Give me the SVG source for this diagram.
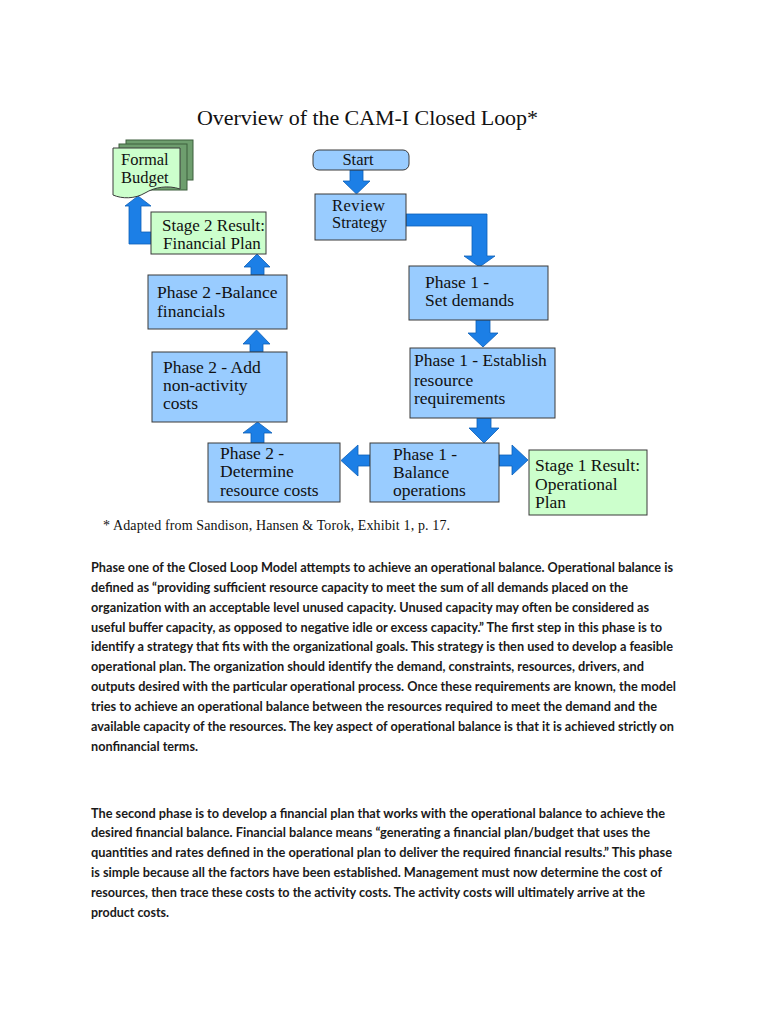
<svg xmlns="http://www.w3.org/2000/svg" width="768" height="1024" viewBox="0 0 768 1024">
<defs>
<style>
.box{fill:#99ccff;stroke:#3a3a3a;stroke-width:1}
.gbox{fill:#ccffcc;stroke:#3a3a3a;stroke-width:1}
.sheet{fill:#6e9e6e;stroke:#3d5f3d;stroke-width:1}
.t{font-family:"Liberation Serif","Times New Roman",serif;font-size:17.5px;fill:#111}
.arr{fill:#1c7fe6;stroke:#0d5fb8;stroke-width:0.8}
.p{font-family:Lato,"Liberation Sans",sans-serif;font-weight:bold;font-size:13.5px;fill:#1a1a1a}
</style>
</defs>
<rect width="768" height="1024" fill="#ffffff"/>
<text class="t" x="197" y="125" style="font-size:22px" textLength="341">Overview of the CAM-I Closed Loop*</text>

<g id="connectors">
<polygon class="arr" points="350,170 363,170 363,181 370,181 356.5,194 343,181 350,181"/>
<polygon class="arr" points="406,214 487,214 487,256 495,256 479.5,267 464,256 472,256 472,226 406,226"/>
<polygon class="arr" points="476,320 490,320 490,333 498,333 483,347 468,333 476,333"/>
<polygon class="arr" points="477,418 491,418 491,428 499,428 484,443 469,428 477,428"/>
<polygon class="arr" points="499,455 512,455 512,445 528,460 512,475 512,466 499,466"/>
<polygon class="arr" points="370,455 358,455 358,445 341,460.5 358,476 358,466 370,466"/>
<polygon class="arr" points="251,443 251,433 243,433 257.5,422 272,433 264,433 264,443"/>
<polygon class="arr" points="250,352 250,344 243,344 256.5,330 270,344 263,344 263,352"/>
<polygon class="arr" points="251,275 251,267 244,267 257,254 270,267 264,267 264,275"/>
<polygon class="arr" points="151,244 129,244 129,206 125,206 138,196 151,206 141,206 141,232 151,232"/>
</g>

<g id="formal-budget">
<rect class="sheet" x="126" y="140" width="67" height="40"/>
<rect class="sheet" x="119" y="144" width="68" height="46"/>
<path class="gbox" d="M113,148 H180 V189 C168,185 155,187 145,193 C135,199 122,199 113,195 Z"/>
<text class="t" x="121" y="165" style="font-size:16.5px">Formal</text>
<text class="t" x="121" y="182.5" style="font-size:16.5px">Budget</text>
</g>

<g id="start">
<rect class="box" x="313" y="150" width="96" height="20" rx="6"/>
<text class="t" x="358" y="165" text-anchor="middle" style="font-size:16.5px">Start</text>
</g>

<g id="review-strategy">
<rect class="box" x="315" y="194" width="91" height="46"/>
<text class="t" x="332" y="210.5" style="font-size:16.5px" textLength="53">Review</text>
<text class="t" x="332" y="228" style="font-size:16.5px">Strategy</text>
</g>

<g id="phase1-set-demands">
<rect class="box" x="409" y="266" width="139" height="54"/>
<text class="t" x="425" y="288">Phase 1 -</text>
<text class="t" x="425" y="306">Set demands</text>
</g>

<g id="phase1-establish">
<rect class="box" x="410" y="348" width="145" height="70"/>
<text class="t" x="414" y="366">Phase 1 - Establish</text>
<text class="t" x="414" y="386">resource</text>
<text class="t" x="414" y="404">requirements</text>
</g>

<g id="phase1-balance">
<rect class="box" x="370" y="443" width="129" height="59"/>
<text class="t" x="393" y="460">Phase 1 -</text>
<text class="t" x="393" y="478">Balance</text>
<text class="t" x="393" y="496">operations</text>
</g>

<g id="stage1-result">
<rect class="gbox" x="529" y="450" width="118" height="65"/>
<text class="t" x="535" y="471" textLength="105">Stage 1 Result:</text>
<text class="t" x="535" y="489.5">Operational</text>
<text class="t" x="535" y="507.5">Plan</text>
</g>

<g id="phase2-determine">
<rect class="box" x="208" y="443" width="132" height="59"/>
<text class="t" x="220" y="458.5">Phase 2 -</text>
<text class="t" x="220" y="477">Determine</text>
<text class="t" x="220" y="495.5">resource costs</text>
</g>

<g id="phase2-add">
<rect class="box" x="152" y="352" width="135" height="70"/>
<text class="t" x="163" y="373">Phase 2 - Add</text>
<text class="t" x="163" y="391">non-activity</text>
<text class="t" x="163" y="409">costs</text>
</g>

<g id="phase2-balance">
<rect class="box" x="148" y="275" width="139" height="54"/>
<text class="t" x="157" y="298">Phase 2 -Balance</text>
<text class="t" x="157" y="316.5">financials</text>
</g>

<g id="stage2-result">
<rect class="gbox" x="151" y="212" width="115" height="42"/>
<text class="t" x="162" y="230.5" style="font-size:17px" textLength="103">Stage 2 Result:</text>
<text class="t" x="163" y="248.5" style="font-size:17px">Financial Plan</text>
</g>

<text class="t" x="103" y="530" style="font-size:14px" textLength="347">* Adapted from Sandison, Hansen &amp; Torok, Exhibit 1, p. 17.</text>

<g id="paragraph1">
<text class="p" x="91" y="572" textLength="582" lengthAdjust="spacingAndGlyphs">Phase one of the Closed Loop Model attempts to achieve an operational balance. Operational balance is</text>
<text class="p" x="91" y="591.9" textLength="537" lengthAdjust="spacingAndGlyphs">defined as “providing sufficient resource capacity to meet the sum of all demands placed on the</text>
<text class="p" x="91" y="611.7" textLength="558" lengthAdjust="spacingAndGlyphs">organization with an acceptable level unused capacity. Unused capacity may often be considered as</text>
<text class="p" x="91" y="631.6" textLength="571" lengthAdjust="spacingAndGlyphs">useful buffer capacity, as opposed to negative idle or excess capacity.” The first step in this phase is to</text>
<text class="p" x="91" y="651.4" textLength="582" lengthAdjust="spacingAndGlyphs">identify a strategy that fits with the organizational goals. This strategy is then used to develop a feasible</text>
<text class="p" x="91" y="671.3" textLength="553" lengthAdjust="spacingAndGlyphs">operational plan. The organization should identify the demand, constraints, resources, drivers, and</text>
<text class="p" x="91" y="691.1" textLength="585" lengthAdjust="spacingAndGlyphs">outputs desired with the particular operational process. Once these requirements are known, the model</text>
<text class="p" x="91" y="711" textLength="566" lengthAdjust="spacingAndGlyphs">tries to achieve an operational balance between the resources required to meet the demand and the</text>
<text class="p" x="91" y="730.8" textLength="583" lengthAdjust="spacingAndGlyphs">available capacity of the resources. The key aspect of operational balance is that it is achieved strictly on</text>
<text class="p" x="91" y="750.7" textLength="107" lengthAdjust="spacingAndGlyphs">nonfinancial terms.</text>
</g>

<g id="paragraph2">
<text class="p" x="91" y="817.5" textLength="574" lengthAdjust="spacingAndGlyphs">The second phase is to develop a financial plan that works with the operational balance to achieve the</text>
<text class="p" x="91" y="837.3" textLength="559" lengthAdjust="spacingAndGlyphs">desired financial balance. Financial balance means “generating a financial plan/budget that uses the</text>
<text class="p" x="91" y="857.2" textLength="581" lengthAdjust="spacingAndGlyphs">quantities and rates defined in the operational plan to deliver the required financial results.” This phase</text>
<text class="p" x="91" y="877" textLength="571" lengthAdjust="spacingAndGlyphs">is simple because all the factors have been established. Management must now determine the cost of</text>
<text class="p" x="91" y="896.9" textLength="554" lengthAdjust="spacingAndGlyphs">resources, then trace these costs to the activity costs. The activity costs will ultimately arrive at the</text>
<text class="p" x="91" y="916.7" textLength="78" lengthAdjust="spacingAndGlyphs">product costs.</text>
</g>
</svg>
